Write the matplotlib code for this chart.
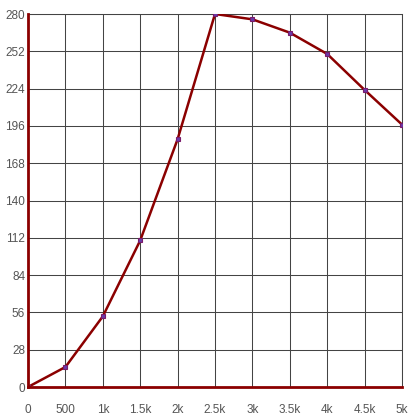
import numpy as np
import matplotlib
matplotlib.use('Agg')
import matplotlib.pyplot as plt

plt.rcParams['font.family'] = ['Liberation Sans', 'DejaVu Sans']

x_vals = [0, 500, 1000, 1500, 2000, 2500, 3000, 3500, 4000, 4500, 5000]
y_vals = [0, 15, 53, 110, 186, 280, 276, 266, 250, 223, 197]
x_ticks = [0, 500, 1000, 1500, 2000, 2500, 3000, 3500, 4000, 4500, 5000]
x_labels = ['0', '500', '1k', '1.5k', '2k', '2.5k', '3k', '3.5k', '4k', '4.5k', '5k']
y_ticks = [0, 28, 56, 84, 112, 140, 168, 196, 224, 252, 280]

fig = plt.figure(figsize=(4.16, 4.2), dpi=100)
ax = fig.add_axes([28/416, 33/420, 374/416, 373/420])

ax.plot(x_vals, y_vals, color='#8b0000', lw=1.8, zorder=3,
        marker='s', ms=3.5, mfc='#6a3aa8', mec='#7a1a6a', mew=0.8)

ax.set_xlim(0, 5000)
ax.set_ylim(0, 280)
ax.set_xticks(x_ticks)
ax.set_xticklabels(x_labels)
ax.set_yticks(y_ticks)
ax.grid(True, color='#444444', lw=0.75)
ax.tick_params(length=0, labelsize=8.5, labelcolor='#555555')
ax.tick_params(axis='x', pad=12)
ax.tick_params(axis='y', pad=2)

for side in ['top', 'right']:
    ax.spines[side].set_color('#444444')
    ax.spines[side].set_linewidth(0.75)
for side in ['left', 'bottom']:
    ax.spines[side].set_color('#8b0000')
    ax.spines[side].set_linewidth(2)
    ax.spines[side].set_zorder(4)

fig.savefig('out.png', dpi=100)
